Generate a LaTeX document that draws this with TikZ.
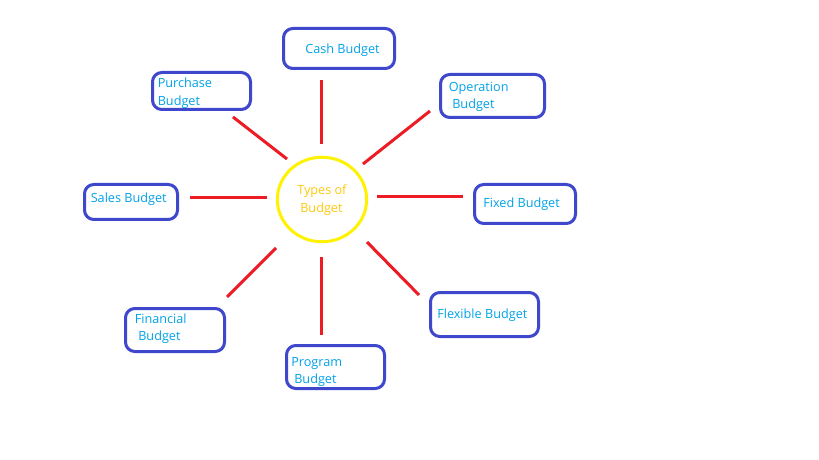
\documentclass[tikz,border=0pt]{standalone}
\usepackage{fontspec}
\setmainfont{Open Sans}
\usetikzlibrary{fit,shapes.geometric}
\definecolor{boxblue}{HTML}{3F48CC}
\definecolor{linered}{HTML}{ED1C24}
\definecolor{ringyellow}{HTML}{FFF200}
\definecolor{txtblue}{HTML}{00A2E8}
\definecolor{txtgold}{HTML}{FFC90E}
\tikzset{
  bbox/.style={draw=boxblue, line width=2.25pt, rounded corners=7pt, inner sep=0pt, rectangle},
  conn/.style={draw=linered, line width=2.25pt},
  lbl/.style={text=txtblue, inner sep=0pt, anchor=base west, font=\fontsize{9.5}{11}\selectfont},
  clbl/.style={text=txtgold, inner sep=0pt, anchor=base west, font=\fontsize{9.5}{11}\selectfont},
  ring/.style={draw=ringyellow, line width=2.25pt, ellipse, inner sep=0pt, minimum width=67pt, minimum height=63.4pt}
}
\begin{document}
\begin{tikzpicture}[x=0.75pt,y=-0.75pt]
\useasboundingbox[fill=white] (0,0) rectangle (819,460);
% centre
\node[ring] (c) at (322,199.5) {};
\node[clbl] (ct1) at (297,195) {Types of};
\node[clbl] (ct2) at (300,213) {Budget};
% boxes
\node[bbox, fit={(283.5,28.5) (394.5,68.5)}] (cash) {};
\node[bbox, fit={(152.5,72.5) (250.5,109.5)}] (purchase) {};
\node[bbox, fit={(440.5,74.5) (544.5,117.5)}] (operation) {};
\node[bbox, fit={(474.5,184.5) (575.5,223.5)}] (fixed) {};
\node[bbox, fit={(430.5,292.5) (538.5,336.5)}] (flexible) {};
\node[bbox, fit={(84.5,184.5) (177.5,219.5)}] (sales) {};
\node[bbox, fit={(125.5,308.5) (224.5,351.5)}] (financial) {};
\node[bbox, fit={(286.5,345.5) (384.5,388.5)}] (program) {};
% labels
\node[lbl] (cashT) at (305,54) {Cash Budget};
\node[lbl] (purT1) at (157.5,88) {Purchase};
\node[lbl] (purT2) at (157.5,106) {Budget};
\node[lbl] (opT1) at (448.5,91.5) {Operation};
\node[lbl] (opT2) at (452,109) {Budget};
\node[lbl] (fixT) at (483,208) {Fixed Budget};
\node[lbl] (flexT) at (437,318) {Flexible Budget};
\node[lbl] (salesT) at (90.5,203) {Sales Budget};
\node[lbl] (finT1) at (134.5,323) {Financial};
\node[lbl] (finT2) at (138,340.5) {Budget};
\node[lbl] (progT1) at (291,366) {Program};
\node[lbl] (progT2) at (294,383) {Budget};
% connector ends
\coordinate (cashA) at (321,144); \coordinate (cashB) at (321,80);
\coordinate (purA) at (287,159); \coordinate (purB) at (233,117);
\coordinate (opA) at (363,164); \coordinate (opB) at (430,111);
\coordinate (salesA) at (267,198); \coordinate (salesB) at (190,198);
\coordinate (fixA) at (377,197); \coordinate (fixB) at (463,197);
\coordinate (flexA) at (367,242); \coordinate (flexB) at (419,295);
\coordinate (finA) at (276,248); \coordinate (finB) at (227,297);
\coordinate (progA) at (321,257); \coordinate (progB) at (321,335);
% connectors
\draw[conn] (cashA) -- (cashB);
\draw[conn] (purA) -- (purB);
\draw[conn] (opA) -- (opB);
\draw[conn] (salesA) -- (salesB);
\draw[conn] (fixA) -- (fixB);
\draw[conn] (flexA) -- (flexB);
\draw[conn] (finA) -- (finB);
\draw[conn] (progA) -- (progB);
\end{tikzpicture}
\end{document}
